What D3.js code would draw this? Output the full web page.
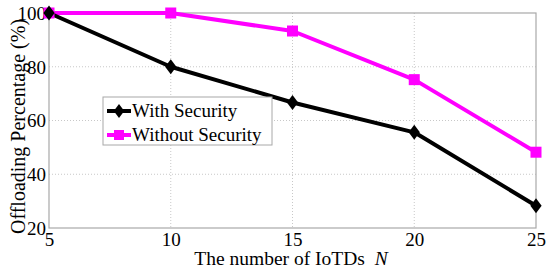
<!DOCTYPE html>
<html><head><meta charset="utf-8">
<script src="https://cdn.jsdelivr.net/npm/d3@7"></script>
<style>body{margin:0;background:#fff}svg{display:block}</style>
</head><body><svg id="c" width="550" height="275"></svg>
<script>
const xValues = [5, 10, 15, 20, 25];
const withSecurity = [100, 80, 66.7, 55.6, 28.3];
const withoutSecurity = [100, 100, 93.3, 75.2, 48.2];
const xTicks = [5, 10, 15, 20, 25];
const yTicks = [20, 40, 60, 80, 100];
const seriesNames = ["With Security", "Without Security"];

const FONT = '"Liberation Serif"';
const svg = d3.select("#c");
const m = {l: 49, r: 536, t: 13, b: 228};
const x = d3.scaleLinear().domain([5, 25]).range([m.l, m.r]);
const y = d3.scaleLinear().domain([20, 100]).range([m.b, m.t]);

// grid
const g = svg.append("g");
g.selectAll(".gx").data(xTicks.slice(1, -1)).join("line")
  .attr("x1", d => x(d)).attr("x2", d => x(d)).attr("y1", m.t).attr("y2", m.b)
  .attr("stroke", "#c8c8c8").attr("stroke-width", 1).attr("stroke-dasharray", "1,2");
g.selectAll(".gy").data(yTicks.slice(1, -1)).join("line")
  .attr("y1", d => y(d)).attr("y2", d => y(d)).attr("x1", m.l).attr("x2", m.r)
  .attr("stroke", "#c8c8c8").attr("stroke-width", 1).attr("stroke-dasharray", "1,2");

// frame
svg.append("rect").attr("x", m.l).attr("y", m.t).attr("width", m.r - m.l).attr("height", m.b - m.t)
  .attr("fill", "none").attr("stroke", "#a8a8a8").attr("stroke-width", 1.2);

// axes
const xa = svg.append("g").attr("transform", `translate(0,${m.b})`)
  .call(d3.axisBottom(x).tickValues(xTicks).tickSize(0).tickPadding(0));
const ya = svg.append("g").attr("transform", `translate(${m.l},0)`)
  .call(d3.axisLeft(y).tickValues(yTicks).tickSize(0).tickPadding(3));
[xa, ya].forEach(a => {
  a.attr("font-family", FONT).attr("font-size", 19);
  a.select(".domain").remove();
  a.selectAll("text").attr("font-family", FONT).attr("font-size", 19).attr("fill", "#000");
});
xa.selectAll("text").attr("dy", null).attr("y", 18);
ya.selectAll("text").attr("dy", "0.33em");

// axis titles
const xt = svg.append("text").attr("x", 291).attr("y", 265).attr("text-anchor", "middle")
  .attr("font-family", FONT).attr("font-size", 19.5).attr("fill", "#000");
xt.append("tspan").text("The number of IoTDs\u00a0\u00a0");
xt.append("tspan").attr("font-style", "italic").text("N");
svg.append("text").attr("transform", `translate(25,${126.5}) rotate(-90)`)
  .attr("text-anchor", "middle").attr("font-family", FONT).attr("font-size", 20).attr("fill", "#000")
  .text("Offloading Percentage (%)");

// lines
const line = d3.line().x((d, i) => x(xValues[i])).y(d => y(d));
svg.append("path").datum(withoutSecurity).attr("d", line)
  .attr("fill", "none").attr("stroke", "#ff00ff").attr("stroke-width", 4).attr("stroke-linejoin", "round");
svg.append("path").datum(withSecurity).attr("d", line)
  .attr("fill", "none").attr("stroke", "#000").attr("stroke-width", 4).attr("stroke-linejoin", "round");

const diamond = (cx, cy, s) => `M${cx},${cy - s}L${cx + s * 0.75},${cy}L${cx},${cy + s}L${cx - s * 0.75},${cy}Z`;
svg.selectAll(".sq").data(withoutSecurity).join("rect")
  .attr("x", (d, i) => x(xValues[i]) - 5.5).attr("y", d => y(d) - 5.5)
  .attr("width", 11).attr("height", 11).attr("fill", "#ff00ff");
svg.selectAll(".dm").data(withSecurity).join("path")
  .attr("d", (d, i) => diamond(x(xValues[i]), y(d), 7.5)).attr("fill", "#000");

// legend
const lg = svg.append("g");
lg.append("rect").attr("x", 103).attr("y", 97).attr("width", 169).attr("height", 48)
  .attr("fill", "#fff").attr("stroke", "#a8a8a8").attr("stroke-width", 1);
const colors = ["#000", "#ff00ff"];
seriesNames.forEach((name, i) => {
  const cy = 111 + i * 24;
  lg.append("line").attr("x1", 107).attr("x2", 131).attr("y1", cy).attr("y2", cy)
    .attr("stroke", colors[i]).attr("stroke-width", 4);
  if (i === 0) lg.append("path").attr("d", diamond(119, cy, 7)).attr("fill", "#000");
  else lg.append("rect").attr("x", 114).attr("y", cy - 5).attr("width", 10).attr("height", 10).attr("fill", "#ff00ff");
  lg.append("text").attr("x", 132).attr("y", cy + 6).attr("font-family", FONT)
    .attr("font-size", 19).attr("fill", "#000").text(name);
});
</script></body></html>
